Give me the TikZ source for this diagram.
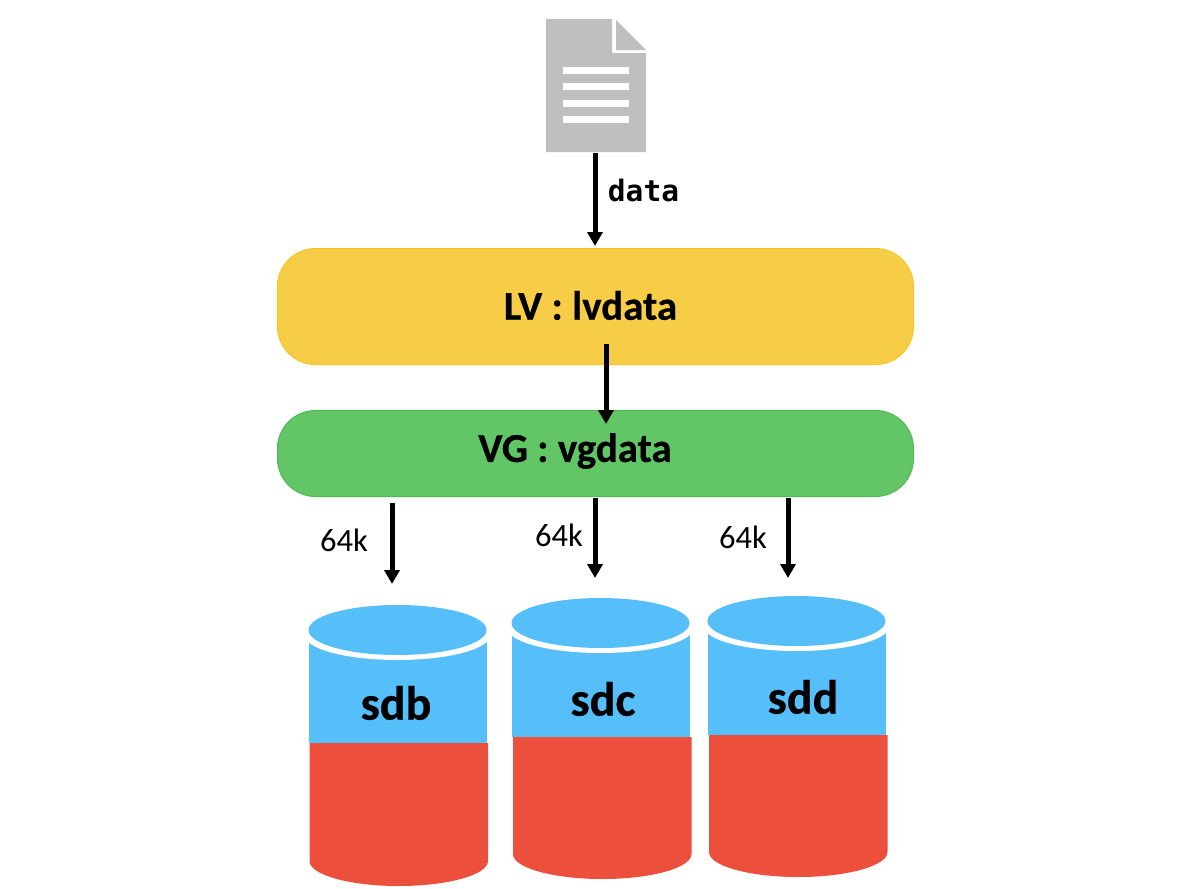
\documentclass[tikz,border=0pt]{standalone}
\usepackage{fontspec}
\setmainfont[BoldFeatures={FakeBold=0.5}]{Carlito}
\newfontfamily\monob{DejaVu Sans Mono}
\usetikzlibrary{arrows.meta}
\definecolor{docgray}{HTML}{BFBFBF}
\definecolor{lvfill}{HTML}{F7CD47}
\definecolor{lvline}{HTML}{F5C71F}
\definecolor{vgfill}{HTML}{62C566}
\definecolor{vgline}{HTML}{4FBB55}
\definecolor{diskblue}{HTML}{56BEF8}
\definecolor{diskred}{HTML}{EC4F3B}
\tikzset{
  flow/.style={line width=5pt,-{Triangle[length=14pt,width=15pt]}},
  layerbox/.style={rounded corners=38pt,line width=1pt,minimum width=636pt,inner sep=0pt,anchor=north west},
  layertext/.style={font=\bfseries\fontsize{41}{41}\selectfont,text=black,inner sep=0pt},
  sizetext/.style={font=\fontsize{32.5}{32.5}\selectfont,text=black,inner sep=0pt},
  disktext/.style={font=\bfseries\fontsize{48}{48}\selectfont,text=black,inner sep=0pt},
  docline/.style={fill=white,draw=none},
}
% #1 name, #2 left x of blue part, #3 ellipse centre y, #4 red top y, #5 left x of red part, #6 label x, #7 label y, #8 label
\newcommand{\diskcyl}[8]{%
  \fill[diskred] (#5,#4) -- ++(178.5,0) -- (#5+178.5,#3+231) arc[start angle=0,end angle=180,x radius=89.25,y radius=25] -- cycle;
  \fill[diskblue] (#2,#3+12) rectangle (#2+178,#4);
  \fill[white] (#2+89,#3+5) ellipse[x radius=93,y radius=25];
  \fill[diskblue] (#2+89,#3) ellipse[x radius=89,y radius=25];
  \node[disktext] (#1) at (#6,#7) {#8};
}
\begin{document}
\begin{tikzpicture}[x=1pt,y=-1pt]
\useasboundingbox (0,0) rectangle (1200,889);
\fill[white] (0,0) rectangle (1200,889);
% document icon
\fill[docgray] (546,19) -- (612,19) -- (612,53) -- (646,53) -- (646,152) -- (546,152) -- cycle;
\fill[docgray] (616,20) -- (646,50) -- (616,50) -- cycle;
\fill[docline] (563,67) rectangle (629,74);
\fill[docline] (563,83) rectangle (629,90);
\fill[docline] (563,100) rectangle (629,107);
\fill[docline] (563,116) rectangle (629,123);
\coordinate (docbottom) at (595,153);
\coordinate (lvtop) at (595,246);
\node[sizetext,font=\monob\bfseries\fontsize{29.5}{29.5}\selectfont] (datalabel) at (643.5,190) {data};
% layers
\node[layerbox,draw=lvline,fill=lvfill,minimum height=116pt] (lv) at (277,248) {};
\node[layertext] (lvlabel) at (590.5,305.5) {LV : lvdata};
\node[layerbox,draw=vgline,fill=vgfill,minimum height=86pt] (vg) at (277,410) {};
\node[layertext] (vglabel) at (575,451) {VG : vgdata};
\coordinate (lvout) at (606,344);
\coordinate (vgin) at (606,424);
\coordinate (a1) at (392,503);
\coordinate (b1) at (392,584);
\coordinate (a2) at (595,498);
\coordinate (b2) at (595,578);
\coordinate (a3) at (788,498);
\coordinate (b3) at (788,578);
\node[sizetext] (k1) at (344,540) {64k};
\node[sizetext] (k2) at (559,535) {64k};
\node[sizetext] (k3) at (743,537) {64k};
% disks
\diskcyl{sdb}{308.5}{630}{743}{309.5}{396}{703}{sdb}
\diskcyl{sdc}{511.5}{623}{737}{513}{603}{699}{sdc}
\diskcyl{sdd}{707.5}{621}{735}{709}{803}{697}{sdd}
% connectors
\draw[flow] (docbottom) -- (lvtop);
\draw[flow] (lvout) -- (vgin);
\draw[flow] (a1) -- (b1);
\draw[flow] (a2) -- (b2);
\draw[flow] (a3) -- (b3);
\end{tikzpicture}
\end{document}
